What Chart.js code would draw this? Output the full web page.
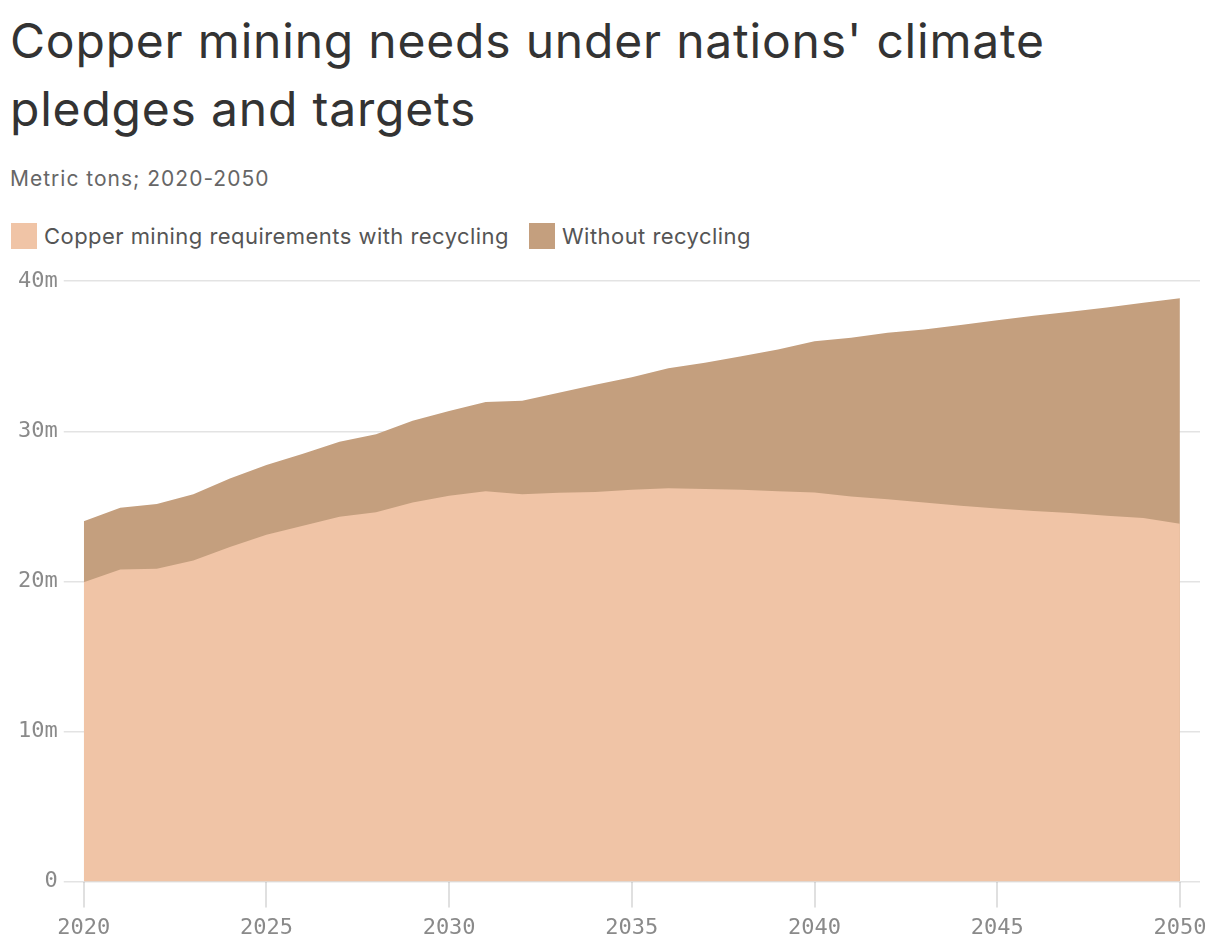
<!DOCTYPE html>
<html>
<head>
<meta charset="utf-8">
<script src="https://cdn.jsdelivr.net/npm/chart.js@4/dist/chart.umd.min.js"></script>
<style>
  body { margin: 0; background: #fff; width: 1220px; height: 952px; overflow: hidden; font-family: Inter, "Noto Sans", sans-serif; }
  h1 { position: absolute; left: 10px; top: 7px; margin: 0; font-size: 48px; font-weight: 400; line-height: 68px; color: #333; letter-spacing: 0.8px; }
  .sub { position: absolute; left: 10px; top: 166px; font-size: 21px; color: #666; letter-spacing: 1px; }
  .legend { position: absolute; left: 11px; top: 223px; display: flex; align-items: center; font-size: 22px; color: #555; letter-spacing: 0.45px; }
  .legend span.sw { display: inline-block; width: 26px; height: 26px; margin-right: 7px; }
  .legend span.lb { margin-right: 20px; }
  #wrap { position: absolute; left: 0; top: 262px; width: 1220px; height: 690px; }
</style>
</head>
<body>
<h1>Copper mining needs under nations' climate<br>pledges and targets</h1>
<div class="sub">Metric tons; 2020-2050</div>
<div class="legend" id="legend"></div>
<div id="wrap"><canvas id="chart"></canvas></div>
<script>
"use strict";

// years on the x axis
const years = [2020, 2021, 2022, 2023, 2024, 2025, 2026, 2027, 2028, 2029, 2030,
  2031, 2032, 2033, 2034, 2035, 2036, 2037, 2038, 2039, 2040,
  2041, 2042, 2043, 2044, 2045, 2046, 2047, 2048, 2049, 2050];

// million metric tons
const withRecycling = [19.95, 20.8, 20.85, 21.4, 22.3, 23.1, 23.7, 24.3, 24.6, 25.25, 25.7,
  26.0, 25.8, 25.9, 25.95, 26.1, 26.2, 26.15, 26.1, 26.0, 25.93,
  25.66, 25.48, 25.26, 25.04, 24.86, 24.69, 24.55, 24.37, 24.22, 23.84];
const withoutRecycling = [24.0, 24.9, 25.15, 25.8, 26.85, 27.75, 28.5, 29.3, 29.8, 30.7, 31.35,
  31.96, 32.03, 32.56, 33.1, 33.6, 34.2, 34.56, 35.0, 35.45, 36.0,
  36.24, 36.57, 36.79, 37.08, 37.4, 37.69, 37.97, 38.24, 38.57, 38.86];

const seriesNames = ["Copper mining requirements with recycling", "Without recycling"];
const seriesColors = ["#f0c4a6", "#c49f7e"];
const yTicks = [0, 10, 20, 30, 40];
const xTicks = [2020, 2025, 2030, 2035, 2040, 2045, 2050];

// legend
const legend = document.getElementById("legend");
seriesNames.forEach(function (name, i) {
  legend.innerHTML += '<span class="sw" style="background:' + seriesColors[i] + '"></span><span class="lb">' + name + '</span>';
});

function points(vals) {
  return years.map(function (yr, i) { return { x: yr, y: vals[i] }; });
}

const monoFont = { family: "'DejaVu Sans Mono', 'Liberation Mono', monospace", size: 22 };

new Chart(document.getElementById("chart"), {
  type: "line",
  data: {
    datasets: [
      {
        label: seriesNames[0],
        data: points(withRecycling),
        backgroundColor: seriesColors[0],
        borderWidth: 0,
        pointRadius: 0,
        fill: "origin"
      },
      {
        label: seriesNames[1],
        data: points(withoutRecycling),
        backgroundColor: seriesColors[1],
        borderWidth: 0,
        pointRadius: 0,
        fill: "origin"
      }
    ]
  },
  options: {
    responsive: true,
    maintainAspectRatio: false,
    animation: false,
    layout: { padding: { left: 12, right: 20, top: 14, bottom: 4 } },
    plugins: { legend: { display: false }, tooltip: { enabled: false } },
    scales: {
      x: {
        type: "linear",
        min: 2020,
        max: 2050.55,
        afterBuildTicks: function (scale) {
          scale.ticks = xTicks.map(function (v) { return { value: v }; });
        },
        ticks: { font: monoFont, color: "#8a8a8a", padding: 7, maxRotation: 0,
          callback: function (v) { return String(v); } },
        grid: { drawOnChartArea: false, drawTicks: true, tickLength: 26, color: "#e0e0e0", lineWidth: 2 },
        border: { display: false }
      },
      y: {
        min: 0,
        max: 40,
        z: 1,
        afterBuildTicks: function (scale) {
          scale.ticks = yTicks.map(function (v) { return { value: v }; });
        },
        ticks: { font: monoFont, color: "#8a8a8a", padding: 6,
          callback: function (v) { return v === 0 ? "0" : v + "m"; } },
        grid: { color: "rgba(0,0,0,0.11)", tickLength: 20, lineWidth: 1.5 },
        border: { display: false }
      }
    }
  }
});
</script>
</body>
</html>
